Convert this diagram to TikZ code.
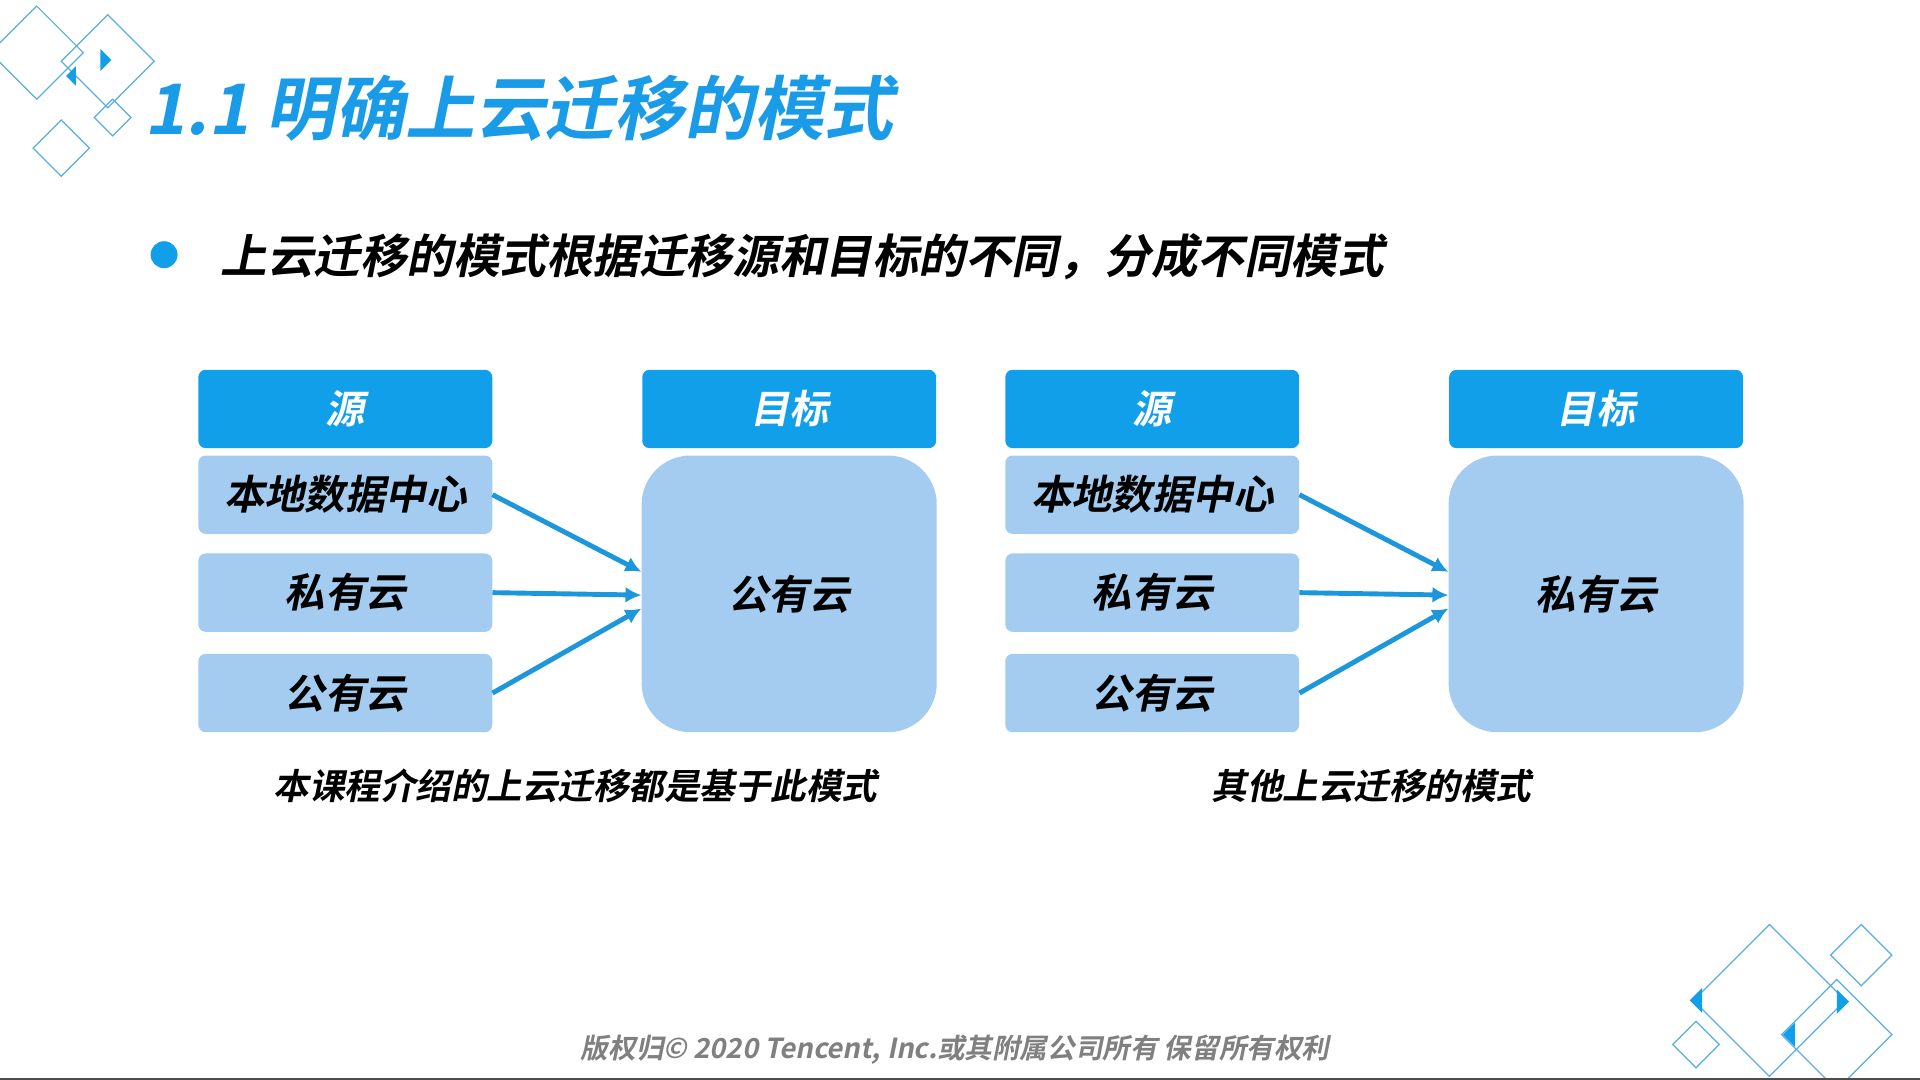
\documentclass[tikz,border=0pt]{standalone}
\usepackage{fontspec}
\usetikzlibrary{arrows.meta}
\setmainfont{Noto Sans CJK SC}
\newfontfamily\cjkb{Noto Sans CJK SC Bold}[FakeSlant=0.2]
\definecolor{hdr}{HTML}{129FE9}
\definecolor{lite}{HTML}{A3CCF0}
\definecolor{ttl}{HTML}{1A9BE8}
\definecolor{arr}{HTML}{1C97DC}
\definecolor{deco}{HTML}{5AAEE0}
\begin{document}
\begin{tikzpicture}[x=1pt,y=-1pt,
  hbox/.style={fill=hdr,rounded corners=6pt,minimum width=240pt,minimum height=64pt,inner sep=0pt,text=white,font=\cjkb\fontsize{32}{34}\selectfont},
  ibox/.style={fill=lite,rounded corners=6pt,minimum width=240pt,minimum height=64pt,inner sep=0pt,font=\cjkb\fontsize{33}{35}\selectfont},
  bigbox/.style={fill=lite,rounded corners=40pt,minimum width=241pt,minimum height=226pt,inner sep=0pt,font=\cjkb\fontsize{33}{35}\selectfont},
  link/.style={draw=arr,line width=4pt,-{Latex[length=13pt,width=13pt]}},
  dm/.style={draw=deco,line width=1pt}]
\useasboundingbox (0,0) rectangle (1568,882);
\fill[white] (0,0) rectangle (1568,882);
% decorations
\draw[dm] (30,5) -- (68,43) -- (30,81) -- (-8,43) -- cycle;
\draw[dm] (88,12) -- (126,50) -- (88,88) -- (50,50) -- cycle;
\draw[dm] (92,81) -- (107,96) -- (92,111) -- (77,96) -- cycle;
\draw[dm] (50,98) -- (73,121) -- (50,144) -- (27,121) -- cycle;
\fill[hdr] (54,62) -- (62,54) -- (62,70) -- cycle;
\fill[hdr] (82,40) -- (91,49) -- (82,58) -- cycle;
\draw[dm] (1445,755) -- (1507,817) -- (1445,879) -- (1383,817) -- cycle;
\draw[dm] (1520,755) -- (1545,780) -- (1520,805) -- (1495,780) -- cycle;
\draw[dm] (1385,834) -- (1404,853) -- (1385,872) -- (1366,853) -- cycle;
\draw[dm] (1500,800) -- (1545,845) -- (1500,890) -- (1455,845) -- cycle;
\fill[hdr] (1380,817) -- (1390,807) -- (1390,827) -- cycle;
\fill[hdr] (1500,808) -- (1510,818) -- (1500,828) -- cycle;
\fill[hdr] (1456,845) -- (1466,835) -- (1466,855) -- cycle;
\draw[black!70,line width=1.5pt] (0,881) -- (1568,881);
% title
\node[anchor=west,text=ttl,font=\cjkb\fontsize{57}{60}\selectfont,inner sep=0pt] (title) at (118,88) {1.1 明确上云迁移的模式};
\fill[hdr] (134,208) circle (11);
\node[anchor=west,font=\cjkb\fontsize{38}{42}\selectfont,inner sep=0pt] (sub) at (180,210) {上云迁移的模式根据迁移源和目标的不同，分成不同模式};
% left group
\node[hbox] (s1) at (282,334) {源};
\node[hbox] (t1) at (644.5,334) {目标};
\node[ibox] (a1) at (282,404) {本地数据中心};
\node[ibox] (b1) at (282,484) {私有云};
\node[ibox] (c1) at (282,566) {公有云};
\node[bigbox] (g1) at (644.5,485) {公有云};
\draw[link] (a1.east) -- ([yshift=18pt]g1.west);
\draw[link] (b1.east) -- ([yshift=-1pt]g1.west);
\draw[link] (c1.east) -- ([yshift=-12pt]g1.west);
\node[font=\cjkb\fontsize{29}{32}\selectfont] (cap1) at (470,642) {本课程介绍的上云迁移都是基于此模式};
% right group
\node[hbox] (s2) at (941,334) {源};
\node[hbox] (t2) at (1303.5,334) {目标};
\node[ibox] (a2) at (941,404) {本地数据中心};
\node[ibox] (b2) at (941,484) {私有云};
\node[ibox] (c2) at (941,566) {公有云};
\node[bigbox] (g2) at (1303.5,485) {私有云};
\draw[link] (a2.east) -- ([yshift=18pt]g2.west);
\draw[link] (b2.east) -- ([yshift=-1pt]g2.west);
\draw[link] (c2.east) -- ([yshift=-12pt]g2.west);
\node[font=\cjkb\fontsize{29}{32}\selectfont] (cap2) at (1120,642) {其他上云迁移的模式};
\node[font=\cjkb\fontsize{22.5}{26}\selectfont,text=black!50] (foot) at (780,857) {版权归© 2020 Tencent, Inc.或其附属公司所有 保留所有权利};
\end{tikzpicture}
\end{document}
